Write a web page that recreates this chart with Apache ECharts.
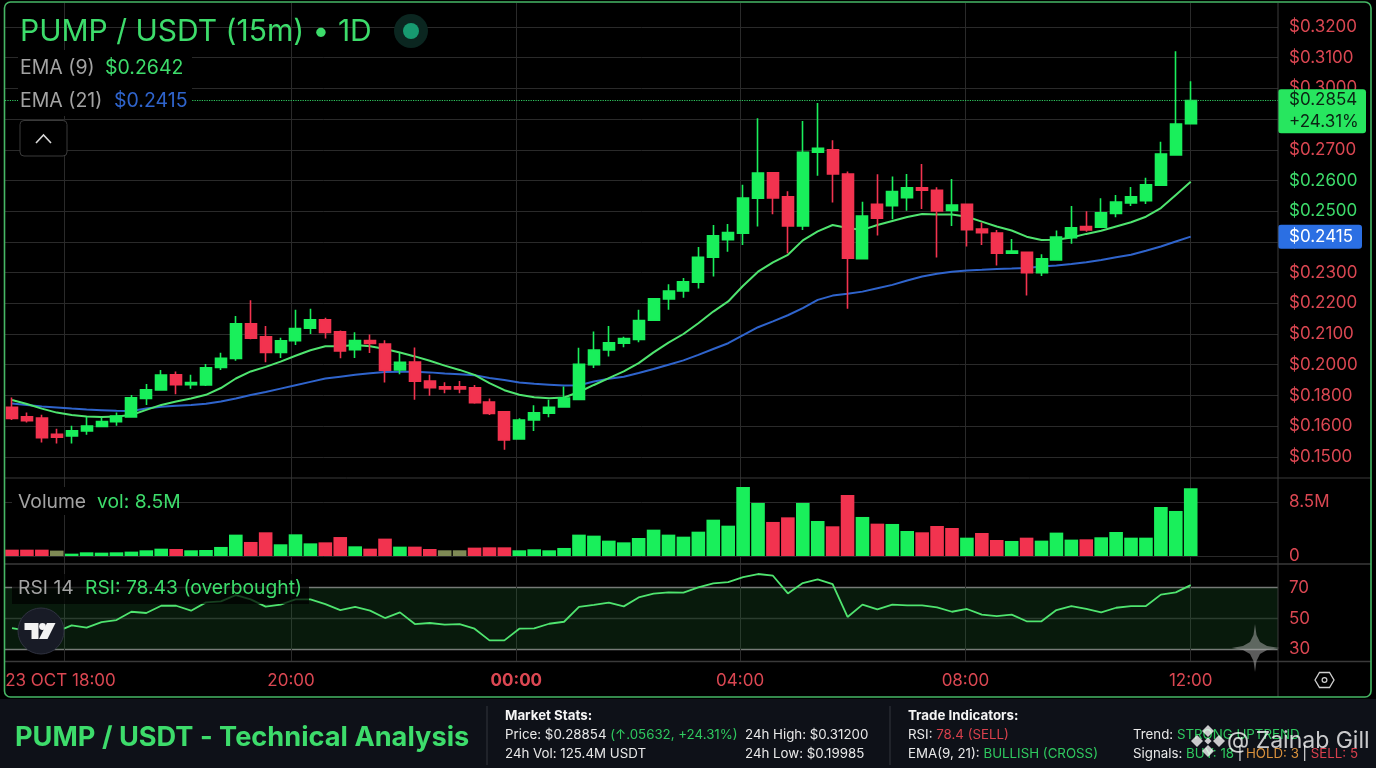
<!DOCTYPE html>
<html>
<head>
<meta charset="utf-8">
<title>PUMP / USDT - Technical Analysis</title>
<script src="https://cdn.jsdelivr.net/npm/echarts@6/dist/echarts.min.js"></script>
<style>html,body{margin:0;padding:0;background:#000;overflow:hidden}#c{width:1376px;height:768px}</style>
</head>
<body>
<div id="c"></div>
<script>
// Values. The reference's gridlines are evenly spaced but its printed
// price labels are not, so prices are kept on the evenly spaced $0.01-per-gridline scale.
const openP = [.1961,.1930,.1926,.1873,.1868,.1884,.1899,.1914,.1930,.1990,.2018,.2067,.2035,.2034,.2091,.2120,.2233,.2191,.2140,.2178,
.2219,.2246,.2207,.2149,.2179,.2167,.2083,.2109,.2047,.2028,.2028,.2025,.1978,.1947,.1858,.1920,.1942,.1962,.1987,.2100,
.2148,.2170,.2182,.2245,.2314,.2340,.2369,.2450,.2507,.2528,.2642,.2725,.2647,.2552,.2792,.2800,.2721,.2445,.2622,.2618,
.2644,.2676,.2668,.2602,.2622,.2542,.2529,.2463,.2466,.2400,.2441,.2514,.2550,.2548,.2593,.2627,.2634,.2685,.2783,.2885];
const closeP = [.1925,.1918,.1862,.1864,.1885,.1900,.1915,.1933,.1992,.2018,.2066,.2035,.2042,.2090,.2121,.2233,.2186,.2140,.2178,.2218,
.2246,.2205,.2145,.2179,.2169,.2082,.2108,.2046,.2025,.2021,.2021,.1976,.1941,.1855,.1920,.1943,.1961,.1991,.2101,.2148,
.2171,.2185,.2244,.2315,.2340,.2370,.2450,.2520,.2530,.2643,.2724,.2643,.2552,.2792,.2805,.2721,.2447,.2584,.2577,.2664,
.2676,.2668,.2601,.2620,.2540,.2530,.2463,.2470,.2400,.2445,.2516,.2546,.2539,.2595,.2630,.2647,.2686,.2786,.2884,.2960];
const lowP = [.1920,.1912,.1847,.1843,.1843,.1872,.1899,.1901,.1930,.1969,.2015,.2004,.2022,.2031,.2083,.2113,.2183,.2108,.2122,.2164,
.2200,.2185,.2121,.2122,.2138,.2042,.2069,.1986,.1999,.2007,.2007,.1973,.1936,.1823,.1858,.1884,.1929,.1962,.1987,.2089,
.2127,.2157,.2173,.2242,.2279,.2318,.2348,.2387,.2468,.2490,.2550,.2590,.2463,.2539,.2715,.2628,.2282,.2445,.2521,.2574,
.2601,.2607,.2449,.2552,.2485,.2490,.2423,.2463,.2325,.2389,.2441,.2494,.2533,.2545,.2580,.2617,.2623,.2685,.2783,.2885];
const highP = [.1993,.1944,.1937,.1891,.1901,.1930,.1928,.1944,.2001,.2037,.2083,.2078,.2067,.2102,.2139,.2259,.2310,.2226,.2188,.2279,
.2282,.2253,.2211,.2206,.2198,.2180,.2138,.2156,.2067,.2043,.2047,.2034,.1990,.1947,.1926,.1968,.1986,.2029,.2155,.2208,
.2226,.2191,.2279,.2315,.2362,.2382,.2483,.2555,.2558,.2686,.2903,.2727,.2665,.2894,.2952,.2831,.2729,.2631,.2720,.2713,
.2721,.2754,.2678,.2705,.2622,.2563,.2539,.2509,.2466,.2460,.2537,.2617,.2600,.2642,.2653,.2679,.2709,.2826,.3121,.3023];
const ema9 = [.1985,.1972,.1957,.1944,.1936,.1931,.1930,.1931,.1936,.1953,.1969,.1980,.1990,.2002,.2024,.2055,.2078,.2093,.2110,.2129,
.2147,.2160,.2160,.2164,.2160,.2151,.2140,.2127,.2113,.2097,.2083,.2067,.2040,.2017,.2002,.1994,.1991,.1993,.2011,.2034,
.2056,.2078,.2105,.2140,.2172,.2200,.2235,.2273,.2306,.2357,.2403,.2433,.2458,.2505,.2534,.2555,.2545,.2539,.2555,.2568,
.2581,.2591,.2589,.2589,.2582,.2566,.2550,.2537,.2517,.2506,.2507,.2514,.2526,.2536,.2550,.2564,.2582,.2610,.2653,.2696];
const ema21 = [.1974,.1969,.1964,.1961,.1957,.1954,.1952,.1950,.1949,.1957,.1963,.1966,.1969,.1973,.1980,.1990,.2001,.2011,.2022,.2033,
.2044,.2055,.2061,.2067,.2072,.2076,.2077,.2077,.2075,.2071,.2069,.2066,.2057,.2050,.2042,.2038,.2035,.2032,.2033,.2045,
.2054,.2061,.2073,.2086,.2100,.2114,.2132,.2151,.2170,.2196,.2222,.2241,.2261,.2284,.2311,.2325,.2331,.2338,.2349,.2360,
.2374,.2387,.2396,.2403,.2407,.2409,.2412,.2413,.2415,.2420,.2423,.2428,.2434,.2441,.2450,.2458,.2471,.2485,.2501,.2517];
const volumeM = [1.0,1.0,1.0,.85,.37,.58,.53,.58,.69,.9,1.16,1.11,.9,.95,1.43,3.38,2.22,3.75,1.85,3.43,
2.0,2.16,3.0,1.53,1.16,2.75,1.48,1.48,1.11,.9,.9,1.32,1.37,1.37,.9,1.06,.9,1.27,3.38,3.22,
2.43,2.16,2.85,4.17,3.38,3.06,3.85,5.75,4.8,10.93,8.4,5.39,6.12,8.4,5.54,4.7,9.66,6.18,5.12,5.07,
3.96,3.75,4.75,4.43,2.9,3.64,2.53,2.38,2.9,2.43,3.7,2.59,2.64,2.96,3.8,2.9,2.9,7.76,7.13,10.72];
const volumeDir = ['r','r','r','m','g','g','g','g','g','g','g','r','g','g','g','g','r','r','g','g',
'g','r','r','g','r','r','g','r','r','m','m','r','r','r','g','g','g','g','g','g',
'g','g','g','g','g','g','g','g','g','g','g','r','r','g','g','r','r','g','r','g',
'g','r','r','r','g','r','r','g','r','g','g','g','r','g','g','g','g','g','g','g'];
const rsi14 = [43.8,42.1,41.2,41.5,45.6,44.1,47.7,49.0,54.4,53.6,58.3,58.3,55.1,60.5,61.1,65.2,62.4,57.7,59.0,62.4,
62.4,59.4,55.5,57.5,55.1,50.3,54.0,46.4,47.1,46.0,46.4,43.4,35.8,35.8,43.4,43.6,46.6,47.9,57.5,58.8,
60.3,57.9,63.7,66.1,67.0,66.8,70.2,72.8,73.7,76.9,78.9,77.8,66.3,73.0,75.4,72.4,51.0,59.0,55.9,59.0,
58.5,58.5,57.2,54.4,56.2,52.5,51.6,52.5,48.2,48.2,55.5,58.1,56.2,54.0,57.0,58.1,58.1,65.5,67.0,71.7];
const priceTicks = [.32,.31,.30,.29,.28,.27,.26,.25,.24,.23,.22,.21,.20,.19,.18];
const priceTickLabels = ['$0.3200','$0.3100','$0.3000','$0.2900','$0.2700','$0.2600','$0.2500','$0.2400','$0.2300','$0.2200','$0.2100','$0.2000','$0.1800','$0.1600','$0.1500'];
const priceTickGreen = ['$0.2600','$0.2500'];
const volumeTicks = [0,8.5];
const rsiTicks = [30,50,70];
const timeTicks = [3.5,18.7,33.8,48.8,63.9,79.0];
const timeLabelAt = [3.25,18.7,33.8,48.8,63.9,79.0];
const timeTickLabels = ['23 OCT 18:00','20:00','00:00','04:00','08:00','12:00'];
const lastPriceTag = '$0.2854\n+24.31%';
const ema21Tag = '$0.2415';

const GREEN='#19ef5b', RED='#f2334f', TXTG='#3ddc6b', TXTR='#db4752', BLUE='#2f64cc', LBL='#a3a3a3', GRID='#2a2a2a';
const FONT='Inter, "Noto Sans", sans-serif';
const ids = openP.map((_,i)=>i);
const pairs = arr => arr.map((v,i)=>[i,v]);
const volColor = {g:GREEN, r:RED, m:'#7f8a55'};

function xAxis(gridIndex, labels){
  return {type:'value', gridIndex, min:-0.47, max:84.85,
    axisLine:{show:false}, axisTick:{show:false, customValues:timeTicks},
    splitLine:{show:true, lineStyle:{color:GRID, width:1}},
    axisLabel: labels ? {show:true, customValues:timeLabelAt, margin:11, fontFamily:FONT, fontSize:17, color:TXTR, hideOverlap:false,
       formatter:(v)=>{const s=timeTickLabels[timeLabelAt.indexOf(v)]; return s==='00:00' ? '{b|'+s+'}' : s;},
       rich:{b:{fontFamily:FONT,fontSize:17,fontWeight:'bold',color:TXTR}}} : {show:false}};
}
function txt(x,y,text,size,fill,extra){
  return Object.assign({type:'text', x, y, z:120, silent:true,
    style:Object.assign({text, fontFamily:FONT, fontSize:size, fill, verticalAlign:'middle', align:'left'}, extra||{})},{});
}
function hline(x1,x2,y,color,width){return {type:'line',z:95,silent:true,shape:{x1,y1:y,x2,y2:y},style:{stroke:color,lineWidth:width||1}};}
function vline(x,y1,y2,color,width){return {type:'line',z:95,silent:true,shape:{x1:x,y1,x2:x,y2},style:{stroke:color,lineWidth:width||1}};}

const wm = 'rgba(255,255,255,0.78)';
function rhomb(cx,cy,r){return {type:'polygon',z:130,silent:true,shape:{points:[[cx,cy-r],[cx+r,cy],[cx,cy+r],[cx-r,cy]]},style:{fill:wm}};}

const FS=13.3;
const foot = {a:{fontFamily:FONT,fontSize:FS,fill:'#e9e9e9'},
  g:{fontFamily:FONT,fontSize:FS,fill:'#2fc95f'}, r:{fontFamily:FONT,fontSize:FS,fill:'#d8404c'}, o:{fontFamily:FONT,fontSize:FS,fill:'#d9913c'}};

const graphic = [
  // label backdrops
  {type:'rect',z:90,silent:true,shape:{x:18,y:50,width:174,height:66},style:{fill:'#000'}},
  {type:'rect',z:90,silent:true,shape:{x:12,y:487,width:142,height:28},style:{fill:'#000'}},
  {type:'rect',z:90,silent:true,shape:{x:12,y:574,width:297,height:30},style:{fill:'rgba(0,0,0,0.72)'}},
  // separators and frame
  hline(5,1371,478,'#3a3a3a'), hline(5,1371,564,'#3a3a3a',1.5), hline(5,1371,661.5,'#3a3a3a',1.5),
  vline(1278,3,697,'#3d3d3d'),
  {type:'rect',z:96,silent:true,shape:{x:4.5,y:2,width:1366.5,height:695,r:6},style:{fill:'none',stroke:'#46b765',lineWidth:1.6}},
  // header
  txt(20,32,'PUMP / USDT (15m) \u2022 1D',30,TXTG),
  {type:'circle',z:110,silent:true,shape:{cx:411,cy:31,r:17},style:{fill:'#0b2620'}},
  {type:'circle',z:111,silent:true,shape:{cx:411,cy:31,r:8},style:{fill:'#179a70'}},
  txt(20,68.5,'EMA (9)',19.5,LBL), txt(105,68.5,'$0.2642',19.5,TXTG),
  txt(20,101,'EMA (21)',19.5,LBL), txt(114,101,'$0.2415',19.5,BLUE),
  {type:'rect',z:110,silent:true,shape:{x:20,y:120.5,width:47,height:35.5,r:4},style:{fill:'#000',stroke:'#3a3a3a',lineWidth:1}},
  {type:'polyline',z:111,silent:true,shape:{points:[[36,143],[43.5,135],[51,143]]},style:{stroke:'#d8d8d8',lineWidth:1.6,fill:'none'}},
  txt(18,502,'Volume',19.3,LBL), txt(97,502,'vol: 8.5M',19.3,TXTG),
  txt(18,588,'RSI 14',19.3,LBL), txt(85,588,'RSI: 78.43 (overbought)',19.3,TXTG),
  // TradingView badge
  {type:'circle',z:110,silent:true,shape:{cx:41,cy:631,r:23},style:{fill:'#181b26',stroke:'#2f3240',lineWidth:1}},
  {type:'polygon',z:111,silent:true,shape:{points:[[24.5,623],[38.5,623],[38.5,639],[31.5,639],[31.5,630],[24.5,630]]},style:{fill:'#f2f2f2'}},
  {type:'circle',z:111,silent:true,shape:{cx:42.5,cy:626.5,r:3.4},style:{fill:'#f2f2f2'}},
  {type:'polygon',z:111,silent:true,shape:{points:[[47,623],[55.5,623],[47.5,639],[39,639]]},style:{fill:'#f2f2f2'}},
  // sparkle
  {type:'polygon',z:125,silent:true,shape:{points:[[1255,624],[1256.5,635],[1260,642],[1267,646],[1279.5,648],[1267,650],[1260,654],[1256.5,661],[1255,672],[1253.5,661],[1250,654],[1243,650],[1231.5,648],[1243,646],[1250,642],[1253.5,635]]},style:{fill:'rgba(175,175,175,0.52)'}},
  // settings hexagon
  {type:'polygon',z:110,silent:true,shape:{points:[[1315,680],[1319.5,672.5],[1329.5,672.5],[1334,680],[1329.5,687.5],[1319.5,687.5]]},style:{fill:'none',stroke:'#cfcfcf',lineWidth:1.3}},
  {type:'circle',z:110,silent:true,shape:{cx:1324.5,cy:680,r:2.4},style:{fill:'none',stroke:'#cfcfcf',lineWidth:1.2}},
  // footer
  {type:'rect',z:92,silent:true,shape:{x:0,y:699,width:1376,height:69},style:{fill:'#0e1118'}},
  txt(15,738,'PUMP / USDT - Technical Analysis',27.2,TXTG,{fontWeight:'bold'}),
  vline(487,706,765,'#33363c'), vline(890,706,765,'#33363c'),
  txt(505,715.5,'Market Stats:',FS,'#f5f5f5',{fontWeight:'bold'}),
  txt(505,734.5,'{a|Price: $0.28854 }{g|(\u2191.05632, +24.31%)}',FS,'#e9e9e9',{rich:foot}),
  txt(505,753.5,'24h Vol: 125.4M USDT',FS,'#e9e9e9'),
  txt(745,734.5,'24h High: $0.31200',FS,'#e9e9e9'),
  txt(745,753.5,'24h Low: $0.19985',FS,'#e9e9e9'),
  txt(908,715.5,'Trade Indicators:',FS,'#f5f5f5',{fontWeight:'bold'}),
  txt(908,734.5,'{a|RSI: }{r|78.4 (SELL)}',FS,'#e9e9e9',{rich:foot}),
  txt(908,753.5,'{a|EMA(9, 21): }{g|BULLISH (CROSS)}',FS,'#e9e9e9',{rich:foot}),
  txt(1133,734.5,'{a|Trend: }{g|STRONG UPTREND}',FS,'#e9e9e9',{rich:foot}),
  txt(1133,753.5,'{a|Signals: }{g|BUY: 18}{a| | }{o|HOLD: 3}{a| | }{r|SELL: 5}',FS,'#e9e9e9',{rich:foot}),
  // watermark
  rhomb(1208,731,6), rhomb(1197,741,6), rhomb(1219,741,6), rhomb(1208,751,6), rhomb(1208,741,3.6),
  Object.assign(txt(1227,741,'@ Zainab Gill',23,wm),{z:130})
];

const chart = echarts.init(document.getElementById('c'));
chart.setOption({
  animation:false, backgroundColor:'#000', graphic:{elements:graphic},
  grid:[
    {left:5,width:1273,top:3,height:475},
    {left:5,width:1273,top:478,height:86},
    {left:5,width:1273,top:564,height:97.5}
  ],
  xAxis:[xAxis(0,false),xAxis(1,false),xAxis(2,true)],
  yAxis:[
    {type:'value',gridIndex:0,position:'right',min:.1731,max:.3278,
     axisLine:{show:false},axisTick:{show:false,customValues:priceTicks},
     splitLine:{show:true,lineStyle:{color:GRID}},
     axisLabel:{customValues:priceTicks,margin:11,padding:[4,0,0,0],fontFamily:FONT,fontSize:17,
       formatter:v=>priceTickLabels[priceTicks.findIndex(t=>Math.abs(t-v)<1e-6)],
       color:v=>{const s=priceTickLabels[priceTicks.findIndex(t=>Math.abs(t-v)<1e-6)];return priceTickGreen.includes(s)?TXTG:TXTR;}}},
    {type:'value',gridIndex:1,position:'right',min:-1.27,max:12.35,
     axisLine:{show:false},axisTick:{show:false,customValues:volumeTicks},
     splitLine:{show:true,lineStyle:{color:GRID}},
     axisLabel:{customValues:volumeTicks,margin:11,padding:[3,0,0,0],fontFamily:FONT,fontSize:17,color:TXTR,formatter:v=>v===0?'0':v+'M'}},
    {type:'value',gridIndex:2,position:'right',min:22.1,max:85.4,
     axisLine:{show:false},axisTick:{show:false,customValues:rsiTicks},
     splitLine:{show:true,lineStyle:{color:['#7a7a7a','#2c2c2c','#7a7a7a'],width:1.3}},
     axisLabel:{customValues:rsiTicks,margin:11,padding:[3,0,0,0],fontFamily:FONT,fontSize:17,color:TXTR}}
  ],
  series:[
    {type:'line',name:'EMA 21',xAxisIndex:0,yAxisIndex:0,z:2,data:pairs(ema21),showSymbol:false,symbol:'none',
     lineStyle:{color:BLUE,width:2},
     markLine:{silent:true,symbol:'none',animation:false,precision:4,lineStyle:{width:0,color:'rgba(0,0,0,0)'},
       data:[{yAxis:ema21[ema21.length-1]}],
       label:{show:true,position:'end',distance:0,formatter:ema21Tag,fontFamily:FONT,fontSize:17,lineHeight:18,color:'#fff',
         backgroundColor:'#2b6fe3',borderRadius:3,padding:[3,6,3,11],width:67,align:'left',verticalAlign:'middle'}}},
    {type:'line',name:'EMA 9',xAxisIndex:0,yAxisIndex:0,z:2,data:pairs(ema9),showSymbol:false,symbol:'none',
     lineStyle:{color:'#4fe46f',width:2}},
    {type:'candlestick',name:'PUMP / USDT',xAxisIndex:0,yAxisIndex:0,z:3,barWidth:11.5,
     encode:{x:0,y:[1,2,3,4]},
     data:ids.map(i=>[i,openP[i],closeP[i],lowP[i],highP[i]]),
     itemStyle:{color:GREEN,color0:RED,borderColor:GREEN,borderColor0:RED,borderWidth:1.6},
     markLine:{silent:true,symbol:'none',animation:false,precision:4,
       lineStyle:{color:'#2fc95f',type:'dotted',width:1.2},
       data:[{yAxis:closeP[closeP.length-1]}],
       label:{show:true,position:'end',distance:0,offset:[0,10.5],formatter:lastPriceTag,fontFamily:FONT,fontSize:17,lineHeight:22,color:'#0b2414',
         backgroundColor:'#27e65f',borderRadius:3,padding:[0,6,0,11],width:71,align:'left',verticalAlign:'middle'}}},
    {type:'bar',name:'Volume',xAxisIndex:1,yAxisIndex:1,barWidth:13.6,data:pairs(volumeM),
     itemStyle:{color:p=>volColor[volumeDir[p.dataIndex]]}},
    {type:'line',name:'RSI 14',xAxisIndex:2,yAxisIndex:2,data:pairs(rsi14),showSymbol:false,symbol:'none',
     lineStyle:{color:'#4fe46f',width:1.8},
     markArea:{silent:true,itemStyle:{color:'rgba(40,130,60,0.2)'},data:[[{yAxis:30},{yAxis:70}]]}}
  ]
});
</script>
</body>
</html>
